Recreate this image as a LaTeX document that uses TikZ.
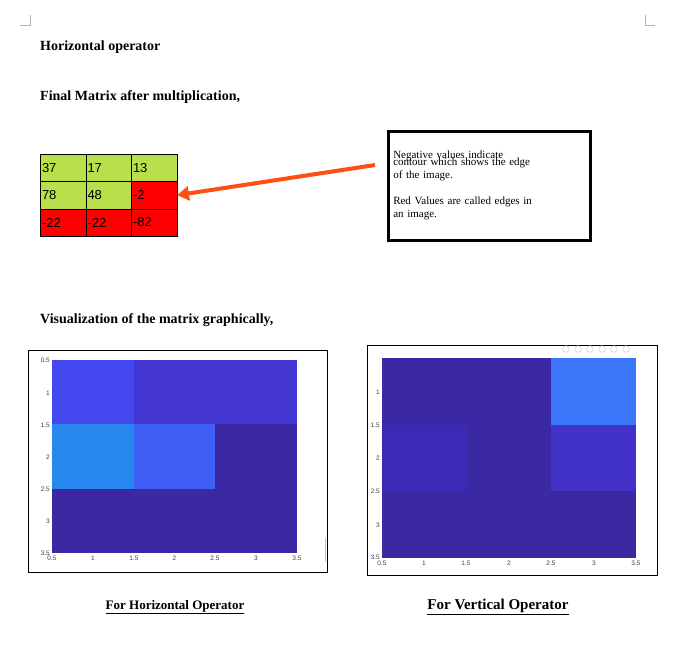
\documentclass[tikz,border=0pt]{standalone}
\usepackage{fontspec}
\usetikzlibrary{arrows.meta}
\setmainfont{Liberation Serif}
\newfontfamily\arialf{Liberation Sans}
\begin{document}
\begin{tikzpicture}[x=1pt,y=-1pt,
 head/.style={anchor=west,inner sep=0,font=\bfseries\fontsize{14}{16}\selectfont},
 cell/.style={draw=black,line width=0.5pt,minimum width=45.5pt,minimum height=27.3pt,anchor=north west,inner sep=1pt,font=\arialf\fontsize{13}{14}\selectfont,text width=42pt,align=left},
 tick/.style={font=\arialf\fontsize{6.5}{7}\selectfont,text=black!75,inner sep=0},
 captxt/.style={font=\bfseries\fontsize{13}{15}\selectfont,inner sep=0}]
\useasboundingbox (0,0) rectangle (693,646);
\fill[white] (0,0) rectangle (693,646);
\definecolor{lime}{HTML}{B8E04A}
\definecolor{dk}{HTML}{3B28A3}
\definecolor{ca}{HTML}{4548EE}
\definecolor{cb}{HTML}{4235D2}
\definecolor{cc}{HTML}{2688EE}
\definecolor{cd}{HTML}{3F5EF5}
\definecolor{ce}{HTML}{3A75FA}
\definecolor{cf}{HTML}{3B2AB5}
\definecolor{cg}{HTML}{4232C8}
\draw[gray!60] (20,25)--(30,25)--(30,15);
\draw[gray!60] (645,15)--(645,25)--(655,25);
\node[head] (h1) at (40,47) {Horizontal operator};
\node[head] (h2) at (40,97) {Final Matrix after multiplication,};
% table
\node[cell,fill=lime] (a11) at (40,154) {37};
\node[cell,fill=lime] (a12) at (85.5,154) {17};
\node[cell,fill=lime] (a13) at (131,154) {13};
\node[cell,fill=lime] (a21) at (40,181.3) {78};
\node[cell,fill=lime] (a22) at (85.5,181.3) {48};
\node[cell,fill=red] (a23) at (131,181.3) {-2};
\node[cell,fill=red] (a31) at (40,208.6) {-22};
\node[cell,fill=red] (a32) at (85.5,208.6) {-22};
\node[cell,fill=red] (a33) at (131,208.6) {-82};
% note box
\node[draw=black,line width=2.5pt,anchor=north west,minimum width=202pt,minimum height=109pt,inner sep=2pt,text width=192pt,align=left,font=\fontsize{11}{13}\selectfont] (note) at (387,130)
{\vspace*{-6pt}Negative values indicate\\contour which shows the edge\\of the image.\\[13pt]Red Values are called edges in\\an image.\par\vspace*{8pt}};
\coordinate (ar) at (375,165);
\draw[line width=4pt,color={rgb,255:red,255;green,80;blue,20},-{Triangle[length=12pt,width=14pt]}] (ar) -- (a23.east);
\node[head] (h3) at (40,320) {Visualization of the matrix graphically,};
% plot 1
\draw[black,line width=0.8pt] (28,350) rectangle (327,572);
\def\px{52}\def\py{360}\def\w{81.67}\def\h{64.33}
\foreach \r/\c/\col in {0/0/ca,0/1/cb,0/2/cb,1/0/cc,1/1/cd,1/2/dk,2/0/dk,2/1/dk,2/2/dk}
 \fill[\col] ({\px+\c*\w},{\py+\r*\h}) rectangle ({\px+(\c+1)*\w},{\py+(\r+1)*\h});
\draw[gray!50] (325,538)--(325,562);
\foreach \v/\y in {0.5/360,1/393,1.5/425,2/457,2.5/489,3/521,3.5/553}
 \node[tick,anchor=east] at (50,\y) {\v};
\foreach \v/\x in {0.5/52,1/93,1.5/134,2/174.5,2.5/215,3/256,3.5/297}
 \node[tick,anchor=north] at (\x,556) {\v};
% plot 2
\draw[black,line width=0.8pt] (367,345) rectangle (657,575);
\def\qx{382}\def\qy{358}\def\qw{84.67}\def\qh{66.67}
\foreach \r/\c/\col in {0/0/dk,0/1/dk,0/2/ce,1/0/cf,1/1/dk,1/2/cg,2/0/dk,2/1/dk,2/2/dk}
 \fill[\col] ({\qx+\c*\qw},{\qy+\r*\qh}) rectangle ({\qx+(\c+1)*\qw},{\qy+(\r+1)*\qh});
\foreach \v/\y in {1/392,1.5/425,2/458,2.5/491,3/525,3.5/557}
 \node[tick,anchor=east] at (380,\y) {\v};
\foreach \v/\x in {0.5/382,1/424,1.5/466,2/509,2.5/551,3/594,3.5/636}
 \node[tick,anchor=north] at (\x,561) {\v};
\foreach \x in {566,578,590,602,614,626}
 \draw[gray!40,line width=0.5pt] (\x,349) circle (3.3pt);
\node[captxt] (c1) at (175,607) {\underline{For Horizontal Operator}};
\node[captxt,font=\bfseries\fontsize{15}{17}\selectfont] (c2) at (498,607) {\underline{For Vertical Operator}};
\end{tikzpicture}
\end{document}
